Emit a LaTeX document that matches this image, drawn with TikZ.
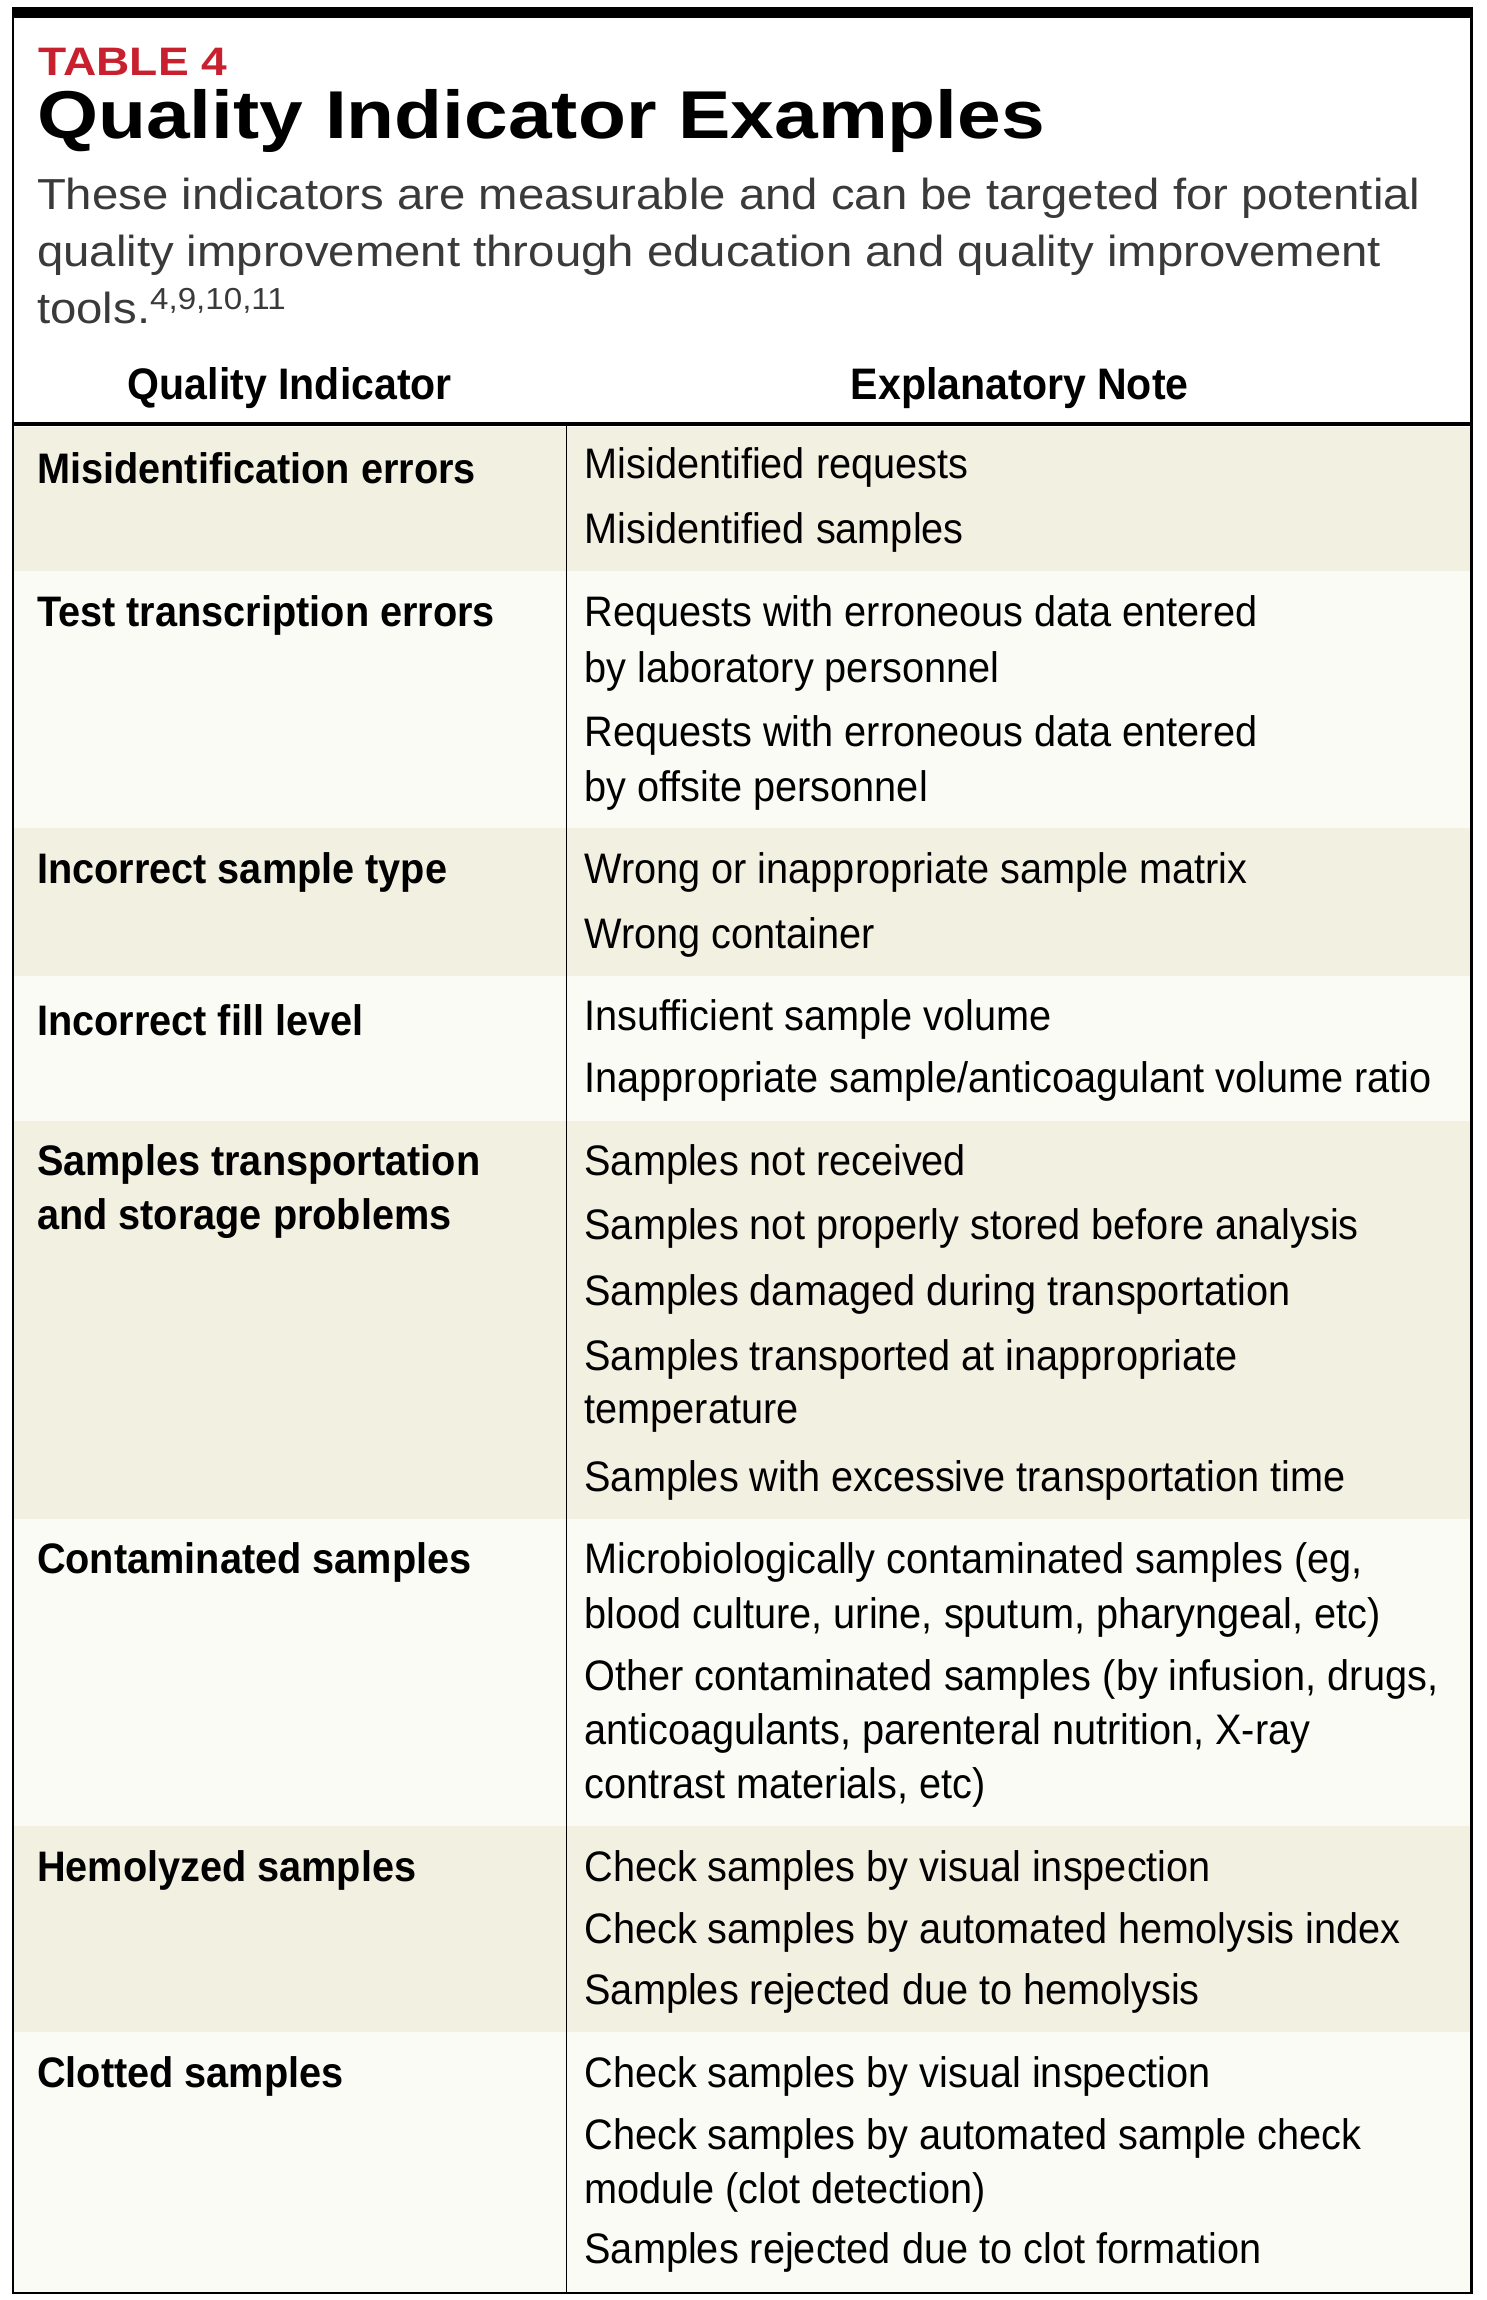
\documentclass[tikz,border=0pt]{standalone}
\usepackage{fontspec}
\setmainfont{Liberation Sans}
\newfontfamily\cond[FakeStretch=0.93]{Liberation Sans}
\newfontfamily\wide[FakeStretch=1.16]{Liberation Sans}
\newfontfamily\subf[FakeStretch=1.09]{Liberation Sans}
\definecolor{rowshade}{HTML}{F2F0E1}
\definecolor{pale}{HTML}{FBFBF6}
\definecolor{tred}{HTML}{C8202F}
\definecolor{subcol}{HTML}{3A3A3A}
\begin{document}
\begin{tikzpicture}[x=1pt,y=-1pt,
  note/.style={anchor=west,inner sep=0,font=\cond\fontsize{29}{34}\selectfont},
  ind/.style={anchor=west,inner sep=0,font=\cond\bfseries\fontsize{29}{34}\selectfont,align=left},
  hdr/.style={inner sep=0,font=\cond\bfseries\fontsize{30}{34}\selectfont}]
\useasboundingbox (0,0) rectangle (1010,1563);
\fill[white] (0,0) rectangle (1010,1563);
% row backgrounds
\fill[rowshade] (9,290) rectangle (1000,388);
\fill[pale] (9,388) rectangle (1000,563);
\fill[rowshade] (9,563) rectangle (1000,663);
\fill[pale] (9,663) rectangle (1000,762);
\fill[rowshade] (9,762) rectangle (1000,1032);
\fill[pale] (9,1032) rectangle (1000,1241);
\fill[rowshade] (9,1241) rectangle (1000,1381);
\fill[pale] (9,1381) rectangle (1000,1558);
% frame
\fill[black] (8,5) rectangle (1001,12);
\draw[line width=1.5] (9,12) -- (9,1558) -- (1000,1558) -- (1000,12);
\draw[line width=3] (9,288) -- (1000,288);
\draw[line width=1.2] (385,289) -- (385,1558);
% title block
\node[anchor=west,inner sep=0,text=tred,font=\wide\bfseries\fontsize{27}{30}\selectfont] (tab) at (26,42) {TABLE 4};
\node[anchor=west,inner sep=0,font=\wide\bfseries\fontsize{46}{50}\selectfont] (title) at (25,82) {Quality Indicator Examples};
\node[anchor=north west,inner sep=0,text=subcol,align=left,font=\subf\fontsize{29.5}{38.5}\selectfont] (subt) at (25,121)
 {These indicators are measurable and can be targeted for potential\\quality improvement through education and quality improvement\\tools.\textsuperscript{4,9,10,11}};
\node[hdr] (h1) at (197,264) {Quality Indicator};
\node[hdr] (h2) at (693,264) {Explanatory Note};
% left column
\node[ind] (l1) at (25,318) {Misidentification errors};
\node[ind] (l2) at (25,418) {Test transcription errors};
\node[ind] (l3) at (25,593) {Incorrect sample type};
\node[ind] (l4) at (25,693) {Incorrect fill level};
\node[ind] (l5a) at (25,791) {Samples transportation};
\node[ind] (l5b) at (25,828) {and storage problems};
\node[ind] (l6) at (25,1062) {Contaminated samples};
\node[ind] (l7) at (25,1271) {Hemolyzed samples};
\node[ind] (l8) at (25,1411) {Clotted samples};
% right column
\foreach \y/\t [count=\i] in {
 318/Misidentified requests,
 362/Misidentified samples,
 418/Requests with erroneous data entered,
 456/by laboratory personnel,
 500/Requests with erroneous data entered,
 537/by offsite personnel,
 593/Wrong or inappropriate sample matrix,
 637/Wrong container,
 693/Insufficient sample volume,
 735/Inappropriate sample\slash anticoagulant volume ratio,
 791/Samples not received,
 835/Samples not properly stored before analysis,
 880/Samples damaged during transportation,
 924/Samples transported at inappropriate,
 961/temperature,
 1006/Samples with excessive transportation time,
 1062/{Microbiologically contaminated samples (eg,},
 1099/{blood culture, urine, sputum, pharyngeal, etc)},
 1141/{Other contaminated samples (by infusion, drugs,},
 1178/{anticoagulants, parenteral nutrition, X-ray},
 1215/{contrast materials, etc)},
 1271/Check samples by visual inspection,
 1313/Check samples by automated hemolysis index,
 1355/Samples rejected due to hemolysis,
 1411/Check samples by visual inspection,
 1453/Check samples by automated sample check,
 1490/module (clot detection),
 1531/Samples rejected due to clot formation}
 \node[note] (r\i) at (397,\y) {\t};
\end{tikzpicture}
\end{document}
